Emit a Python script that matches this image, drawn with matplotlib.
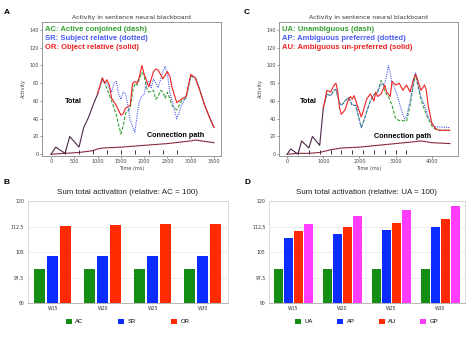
import numpy as np
import matplotlib
matplotlib.use('Agg')
import matplotlib.pyplot as plt

plt.rcParams['font.family'] = ['DejaVu Sans']

# ---- panel A data (time in ms, activity) ----
a_early_t = [0, 100, 300, 400, 600, 700, 800, 900, 1000]
a_early_v = [0, 8, 1, 20, 8, 30, 41, 55, 68]

ac_t = [1000, 1100, 1150, 1200, 1300, 1350, 1400, 1450, 1500, 1550, 1600, 1700, 1750, 1800, 1850, 1900,
        1950, 2000, 2050, 2100, 2200, 2250, 2300, 2350, 2400, 2450, 2500, 2600, 2700, 2800, 2900, 3000,
        3100, 3200, 3300, 3400, 3500]
ac_v = [68, 86, 80, 74, 60, 52, 45, 33, 23, 32, 46, 52, 70, 80, 78, 85, 92, 88, 75, 70, 72, 62, 65, 72,
        70, 63, 70, 55, 50, 60, 63, 88, 86, 72, 55, 42, 30]

sr_t = [1000, 1100, 1200, 1300, 1350, 1400, 1450, 1500, 1550, 1600, 1650, 1700, 1800, 1850, 1900, 1950,
        2000, 2050, 2100, 2150, 2200, 2300, 2400, 2450, 2500, 2550, 2600, 2700, 2800, 2900, 3000, 3100,
        3200, 3300, 3400, 3500]
sr_v = [68, 84, 80, 70, 80, 82, 68, 62, 70, 68, 55, 38, 25, 45, 60, 65, 68, 80, 82, 75, 85, 75, 93, 99,
        90, 70, 60, 40, 55, 65, 88, 86, 72, 55, 42, 30]

or_t = [1000, 1100, 1150, 1200, 1250, 1300, 1400, 1500, 1550, 1600, 1700, 1750, 1800, 1850, 1900, 1950,
        2000, 2100, 2200, 2250, 2300, 2400, 2500, 2550, 2600, 2700, 2800, 2900, 3000, 3100, 3200, 3300,
        3400, 3500]
or_v = [68, 86, 80, 84, 78, 63, 55, 44, 46, 52, 55, 80, 82, 80, 88, 100, 90, 76, 93, 96, 95, 85, 93, 88,
        75, 58, 62, 65, 90, 86, 71, 55, 42, 30]

cp_a_t = [0, 300, 600, 900, 1000, 1100, 1500, 2000, 2500, 3000, 3100, 3500]
cp_a_v = [0, 1, 2, 4, 6, 7, 8, 10, 12, 15, 16, 13]
onsets_a = [300, 600, 900, 1200, 1500, 1800, 2100, 2400, 2700]

# ---- panel C data ----
c_early_t = [0, 100, 300, 400, 600, 700, 900, 1000]
c_early_v = [0, 6, 0, 15, 7, 20, 10, 52]

ua_t = [1000, 1100, 1200, 1300, 1350, 1400, 1450, 1500, 1600, 1700, 1800, 1900, 2000, 2050, 2100, 2200,
        2300, 2400, 2500, 2600, 2650, 2700, 2800, 2900, 3000, 3100, 3200, 3300, 3400, 3500, 3550, 3600,
        3700, 3800, 3900, 4000, 4100, 4200, 4500]
ua_v = [52, 68, 66, 72, 73, 65, 58, 55, 60, 64, 55, 55, 38, 30, 35, 48, 60, 67, 70, 83, 80, 70, 65, 55,
        40, 38, 38, 37, 55, 80, 90, 80, 62, 50, 40, 32, 28, 27, 27]

ap_t = [1000, 1100, 1200, 1300, 1350, 1400, 1450, 1500, 1600, 1700, 1800, 1900, 2000, 2050, 2100, 2200,
        2300, 2400, 2500, 2600, 2650, 2700, 2750, 2800, 2850, 2900, 3000, 3100, 3200, 3250, 3300, 3400,
        3500, 3550, 3600, 3700, 3800, 3900, 4000, 4100, 4500]
ap_v = [52, 68, 66, 72, 73, 65, 58, 55, 60, 64, 55, 55, 38, 30, 35, 48, 60, 67, 70, 80, 78, 80, 88, 100,
        92, 80, 72, 58, 45, 40, 42, 60, 82, 92, 82, 65, 55, 42, 35, 31, 30]

au_t = [1000, 1100, 1200, 1300, 1350, 1400, 1450, 1500, 1600, 1700, 1750, 1800, 1850, 1900, 2000, 2050,
        2100, 2200, 2300, 2400, 2450, 2500, 2600, 2700, 2750, 2800, 2850, 2900, 3000, 3100, 3200, 3300,
        3400, 3500, 3550, 3600, 3700, 3800, 3850, 3900, 4000, 4100, 4200, 4300, 4500]
au_v = [52, 72, 70, 78, 80, 70, 52, 45, 50, 62, 65, 62, 66, 60, 48, 42, 48, 62, 68, 60, 70, 65, 68, 78,
        70, 68, 65, 82, 78, 80, 72, 78, 70, 85, 90, 85, 72, 78, 72, 55, 35, 29, 27, 27, 27]

cp_c_t = [0, 300, 600, 900, 1000, 1200, 1500, 2000, 2500, 3000, 3500, 3700, 4000, 4500]
cp_c_v = [0, 1, 1, 2, 3, 5, 7, 8, 10, 12, 14, 15, 13, 12]
onsets_c = [300, 600, 900, 1200, 1500, 1800, 2100, 2400, 2700, 3000, 3300]

# ---- bar data ----
groups = ['W15', 'W20', 'W25', 'W30']
ac_sum = [100, 100, 100, 100]
sr_sum = [103.8, 103.8, 103.8, 103.8]
or_sum = [112.6, 113.0, 113.3, 113.2]
ua_sum = [100, 100, 100, 100]
ap_sum = [109.1, 110.3, 111.5, 112.5]
au_sum = [111.1, 112.5, 113.5, 114.6]
gp_sum = [113.3, 115.5, 117.3, 118.5]

GREEN, BLUE, RED = '#35a035', '#4a5cf0', '#ee2222'
DARK = '#4a2848'
CPCOL = '#8a2a3a'

fig = plt.figure(figsize=(4.74, 3.55), dpi=100)


def line_panel(rect, early, series, cp, onsets, xmax_ticks, xlim, labels, total_xy, conn_xy):
    ax = fig.add_axes(rect)
    ax.plot(cp[0], cp[1], color=CPCOL, lw=0.8)
    ax.vlines(onsets, 0, 4.5, color=DARK, lw=0.7)
    ax.plot(early[0], early[1], color=DARK, lw=0.8)
    styles = [(GREEN, '--'), (BLUE, ':'), (RED, '-')]
    for (t, v), (c, ls) in zip(series, styles):
        ax.plot(t, v, color=c, ls=ls, lw=0.8, dashes=(3, 1.5) if ls == '--' else (1, 1) if ls == ':' else ())
    ax.set_xlim(*xlim)
    ax.set_ylim(-2, 149)
    ax.set_xticks(xmax_ticks)
    ax.set_yticks(range(0, 141, 20))
    ax.tick_params(labelsize=3.5, length=1.5, width=0.4, pad=1, colors='#444444')
    for s in ax.spines.values():
        s.set_color('#888888')
        s.set_linewidth(0.6)
    ax.set_title('Activity in sentence neural blackboard', fontsize=4.4, pad=2.5, color='#333333')
    ax.set_xlabel('Time (ms)', fontsize=3.6, labelpad=1, color='#444444')
    ax.set_ylabel('Activity', fontsize=3.6, labelpad=2, color='#444444')
    for i, (txt, c) in enumerate(zip(labels, [GREEN, BLUE, RED])):
        ax.text(0.015, 0.97 - i * 0.068, txt, transform=ax.transAxes, color=c, fontsize=5.5,
                fontweight='bold', family='Liberation Sans', va='top')
    ax.text(*total_xy, 'Total', fontsize=5.2, fontweight='bold', family='Liberation Sans', va='center')
    ax.text(*conn_xy, 'Connection path', fontsize=5.2, fontweight='bold', family='Liberation Sans',
            va='center')
    return ax


line_panel([42 / 474, 199 / 355, 179 / 474, 134 / 355],
           (a_early_t, a_early_v),
           [(ac_t, ac_v), (sr_t, sr_v), (or_t, or_v)],
           (cp_a_t, cp_a_v), onsets_a, range(0, 3501, 500), (-195, 3650),
           ['AC: Active conjoined (dash)', 'SR: Subject relative (dotted)', 'OR: Object relative (solid)'],
           (300, 59), (2060, 21))

line_panel([279 / 474, 199 / 355, 179 / 474, 134 / 355],
           (c_early_t, c_early_v),
           [(ua_t, ua_v), (ap_t, ap_v), (au_t, au_v)],
           (cp_c_t, cp_c_v), onsets_c, range(0, 4001, 1000), (-225, 4725),
           ['UA: Unambiguous (dash)', 'AP: Ambiguous preferred (dotted)', 'AU: Ambiguous un-preferred (solid)'],
           (360, 59), (2400, 20.5))

BG, BB, BR, BM = '#138e13', '#0a2cff', '#ff2a00', '#ff3cff'


def bar_panel(rect, series, names, colors, width, offsets, title, colspacing):
    ax = fig.add_axes(rect)
    x = np.arange(len(groups))
    for vals, name, c, off in zip(series, names, colors, offsets):
        ax.bar(x + off, np.array(vals) - 90, width, bottom=90, color=c, label=name, zorder=3)
    ax.set_xlim(-0.5, 3.5)
    ax.set_ylim(90, 120)
    ticks = [90, 97.5, 105, 112.5, 120]
    ax.set_yticks(ticks)
    ax.set_yticklabels([f'{t:g}'.replace('.', ',') for t in ticks])
    ax.set_xticks(x)
    ax.set_xticklabels(groups)
    ax.tick_params(labelsize=3.3, length=0, pad=2.5, colors='#333333')
    ax.grid(axis='y', color='#e8e8e8', lw=0.5, zorder=0)
    for s in ['left', 'right', 'top']:
        ax.spines[s].set_color('#d4d4d4')
        ax.spines[s].set_linewidth(0.6)
    ax.spines['bottom'].set_color('#aaaaaa')
    ax.spines['bottom'].set_linewidth(0.6)
    ax.set_title(title, fontsize=5.8, pad=5, family='Liberation Sans', color='#222222')
    ax.legend(loc='upper center', bbox_to_anchor=(0.5, -0.1), ncol=len(names), frameon=False,
              handlelength=1.0, handleheight=1.0, handletextpad=0.6,
              columnspacing=colspacing, prop={'family': 'Liberation Sans', 'size': 4.3})
    return ax


bar_panel([27.7 / 474, 52 / 355, 200 / 474, 102 / 355],
          [ac_sum, sr_sum, or_sum], ['AC', 'SR', 'OR'], [BG, BB, BR], 0.23, [-0.26, 0, 0.26],
          'Sum total activation (relative: AC = 100)', 5.8)

bar_panel([269 / 474, 52 / 355, 196 / 474, 102 / 355],
          [ua_sum, ap_sum, au_sum, gp_sum], ['UA', 'AP', 'AU', 'GP'], [BG, BB, BR, BM], 0.185,
          [-0.315, -0.105, 0.105, 0.315],
          'Sum total activation (relative: UA = 100)', 4.0)

for lab, x, y in [('A', 4, 12), ('C', 244, 12), ('B', 4, 183), ('D', 244, 183)]:
    fig.text(x / 474, 1 - y / 355, lab, fontsize=6, fontweight='bold', family='Liberation Sans',
             va='center', ha='left')

fig.savefig('out.png', dpi=100)
